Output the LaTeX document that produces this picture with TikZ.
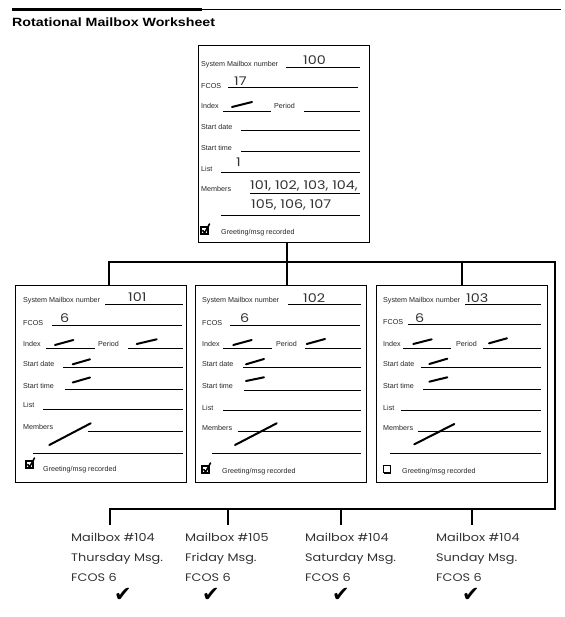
\documentclass[tikz,border=0pt]{standalone}
\usepackage{fontspec}
\setmainfont{Liberation Sans}
\newfontfamily\lblfam{Liberation Sans}
\newfontfamily\handfam{Poppins}
\newfontfamily\symfam{DejaVu Sans}
\newcommand\lblf{\lblfam\fontsize{7.2}{8}\selectfont}
\newcommand\handf{\handfam\fontsize{12}{14}\selectfont}
\newcommand\bigf{\handfam\fontsize{11}{20.2}\selectfont}
\newcommand\titlef{\lblfam\bfseries\fontsize{12}{14}\selectfont}
\newcommand\hw[1]{\scalebox{1.2}[1]{#1}}
\newcommand\mw[1]{\scalebox{1.17}[1]{#1}}
\tikzset{
  formbox/.style={draw, line width=0.9bp, minimum width=171bp, minimum height=197bp, inner sep=0pt, anchor=north west},
  fline/.style={line width=0.75bp},
  lbl/.style={font=\lblf, anchor=base west, inner sep=0pt, text=black!85},
  hand/.style={font=\handf, anchor=base west, inner sep=0pt, text=black!80},
  scribble/.style={line width=2bp, line cap=round},
  conn/.style={line width=1.9bp},
  msg/.style={font=\bigf, align=left, anchor=north west, inner xsep=0pt, inner ysep=8bp, text=black!80},
  tick/.style={font=\symfam\fontsize{21}{21}\selectfont, inner sep=0pt},
  checked/.pic={
    \draw[line width=1.2bp] (0,0) rectangle (7,7);
    \draw[line width=1.6bp, line cap=round, line join=round] (1.8,3.5) -- (3.6,6) -- (8.5,-3);
  },
  emptybox/.pic={
    \draw[line width=0.9bp] (0,0) rectangle (7,7);
    \draw[line width=1.6bp] (1,7.6) -- (7.6,7.6) -- (7.6,1);
  }
}
\begin{document}
\begin{tikzpicture}[x=1bp, y=-1bp]
\useasboundingbox (0,0) rectangle (565,617);

% header
\draw[line width=3.6bp] (12,9.5) -- (202,9.5);
\draw[line width=1bp] (202,9.5) -- (561,9.5);
\node[anchor=base west, inner sep=0pt, font=\titlef] (title) at (12,27) {\scalebox{1.19}[1]{Rotational Mailbox Worksheet}};

% boxes
\node[formbox] (top) at (198,45) {};
\node[formbox] (b1) at (15,285) {};
\node[formbox] (b2) at (195,285) {};
\node[formbox] (b3) at (376,285) {};

% ---------- top box ----------
\begin{scope}[shift={(198,45)}]
  \node[lbl] (t-smn) at (3,21.5) {System Mailbox number};
  \draw[fline] (88,22.3) -- (162,22.3);
  \node[hand] (t-smnv) at (105,19.5) {\hw{100}};
  \node[lbl] (t-fcos) at (3,44) {FCOS};
  \draw[fline] (30,42.3) -- (160,42.3);
  \node[hand] (t-fcosv) at (36,41) {\hw{17}};
  \node[lbl] (t-idx) at (3,63.3) {Index};
  \draw[fline] (25,66.7) -- (73,66.7);
  \draw[scribble] (34,62) -- (54,57);
  \node[lbl] (t-per) at (76,63.3) {Period};
  \draw[fline] (106,66.7) -- (162,66.7);
  \node[lbl] (t-sd) at (3,85) {Start date};
  \draw[fline] (43,85) -- (162,85);
  \node[lbl] (t-st) at (3,106) {Start time};
  \draw[fline] (43,106.7) -- (162,106.7);
  \node[lbl] (t-list) at (3,126.7) {List};
  \draw[fline] (23,127.7) -- (162,127.7);
  \node[hand] (t-listv) at (38,122) {\hw{1}};
  \node[lbl] (t-mem) at (3,146.7) {Members};
  \draw[fline] (52,148.3) -- (162,148.3);
  \node[hand] (t-memv1) at (52,144) {\hw{101, 102, 103, 104,}};
  \node[hand] (t-memv2) at (53,163) {\hw{105, 106, 107}};
  \draw[fline] (23,170) -- (162,170);
  \pic at (3,182) {checked};
  \node[lbl] (t-greet) at (23,189) {Greeting/msg recorded};
\end{scope}

% ---------- box 1 ----------
\begin{scope}[shift={(15,285)}]
  \node[lbl] (a-smn) at (8,17.5) {System Mailbox number};
  \draw[fline] (90,19) -- (168,19);
  \node[hand] (a-smnv) at (113,16) {\hw{101}};
  \node[lbl] (a-fcos) at (8,40) {FCOS};
  \draw[fline] (37,40) -- (167,40);
  \node[hand] (a-fcosv) at (45,37.5) {\hw{6}};
  \node[lbl] (a-idx) at (8,61.5) {Index};
  \draw[fline] (31,63.5) -- (80,63.5);
  \draw[scribble] (40,60) -- (58.3,55);
  \node[lbl] (a-per) at (83,61.5) {Period};
  \draw[fline] (113,63.5) -- (168,63.5);
  \draw[scribble] (121.7,59) -- (141.7,54.3);
  \node[lbl] (a-sd) at (8,81.5) {Start date};
  \draw[fline] (48,82.5) -- (168,82.5);
  \draw[scribble] (57.7,79.3) -- (75,74.3);
  \node[lbl] (a-st) at (8,103) {Start time};
  \draw[fline] (50,104.5) -- (168,104.5);
  \draw[scribble] (57.7,97.5) -- (75,92.5);
  \node[lbl] (a-list) at (8,122.5) {List};
  \draw[fline] (28,124.5) -- (168,124.5);
  \node[lbl] (a-mem) at (8,144.5) {Members};
  \draw[fline] (73,146.5) -- (168,146.5);
  \draw[scribble] (34.3,160) -- (75.7,138.3);
  \draw[fline] (18,168.5) -- (168,168.5);
  \pic at (11,176) {checked};
  \node[lbl] (a-greet) at (28,186) {Greeting/msg recorded};
\end{scope}

% ---------- box 2 ----------
\begin{scope}[shift={(195,285)}]
  \node[lbl] (b-smn) at (7,17.5) {System Mailbox number};
  \draw[fline] (93,19) -- (166,19);
  \node[hand] (b-smnv) at (108,17.2) {\hw{102}};
  \node[lbl] (b-fcos) at (7,40) {FCOS};
  \draw[fline] (35,40) -- (165,40);
  \node[hand] (b-fcosv) at (45,37.5) {\hw{6}};
  \node[lbl] (b-idx) at (7,61.5) {Index};
  \draw[fline] (28,63) -- (77,63);
  \draw[scribble] (38.3,60) -- (56.7,55);
  \node[lbl] (b-per) at (81,61.5) {Period};
  \draw[fline] (110,63) -- (166,63);
  \draw[scribble] (111.7,59) -- (130,54);
  \node[lbl] (b-sd) at (7,81) {Start date};
  \draw[fline] (48,82.5) -- (166,82.5);
  \draw[scribble] (51,79.3) -- (69,74);
  \node[lbl] (b-st) at (7,103) {Start time};
  \draw[fline] (49,105) -- (166,105);
  \draw[scribble] (51,96) -- (69,92.3);
  \node[lbl] (b-list) at (7,125) {List};
  \draw[fline] (28,125) -- (166,125);
  \node[lbl] (b-mem) at (7,145) {Members};
  \draw[fline] (43,146) -- (166,146);
  \draw[scribble] (40,160) -- (81.7,138.3);
  \draw[fline] (17,168) -- (166,168);
  \pic at (7,181) {checked};
  \node[lbl] (b-greet) at (27,188) {Greeting/msg recorded};
\end{scope}

% ---------- box 3 ----------
\begin{scope}[shift={(376,285)}]
  \node[lbl] (c-smn) at (7,17.5) {System Mailbox number};
  \draw[fline] (89,19) -- (165,19);
  \node[hand] (c-smnv) at (90,17.7) {\hw{103}};
  \node[lbl] (c-fcos) at (7,39.5) {FCOS};
  \draw[fline] (32,39.5) -- (165,39.5);
  \node[hand] (c-fcosv) at (39,37.5) {\hw{6}};
  \node[lbl] (c-idx) at (7,61.5) {Index};
  \draw[fline] (27,63.3) -- (75,63.3);
  \draw[scribble] (37.3,59) -- (55.7,54.3);
  \node[lbl] (c-per) at (80,61.5) {Period};
  \draw[fline] (107,63.3) -- (165,63.3);
  \draw[scribble] (113,58.3) -- (131,53.3);
  \node[lbl] (c-sd) at (7,81) {Start date};
  \draw[fline] (45,82.3) -- (165,82.3);
  \draw[scribble] (53.3,79) -- (71.3,73.7);
  \node[lbl] (c-st) at (7,103) {Start time};
  \draw[fline] (47,104) -- (165,104);
  \draw[scribble] (53.3,96.7) -- (71.3,92.3);
  \node[lbl] (c-list) at (7,125) {List};
  \draw[fline] (25,125) -- (165,125);
  \node[lbl] (c-mem) at (7,145) {Members};
  \draw[fline] (42,146.7) -- (165,146.7);
  \draw[scribble] (38.3,159.3) -- (78.3,139);
  \draw[fline] (14,168.3) -- (165,168.3);
  \pic at (7,180.5) {emptybox};
  \node[lbl] (c-greet) at (26,188.3) {Greeting/msg recorded};
\end{scope}

% ---------- bottom messages ----------
\node[msg] (m1) at (71,525) {\mw{Mailbox \#104}\\\mw{Thursday Msg.}\\\mw{FCOS 6}};
\node[msg] (m2) at (185,525) {\mw{Mailbox \#105}\\\mw{Friday Msg.}\\\mw{FCOS 6}};
\node[msg] (m3) at (305,525) {\mw{Mailbox \#104}\\\mw{Saturday Msg.}\\\mw{FCOS 6}};
\node[msg] (m4) at (436,525) {\mw{Mailbox \#104}\\\mw{Sunday Msg.}\\\mw{FCOS 6}};
\node[tick] (c1) at (123,595) {✔};
\node[tick] (c2) at (211,595) {✔};
\node[tick] (c3) at (341,595) {✔};
\node[tick] (c4) at (471,595) {✔};

% ---------- connectors ----------
\coordinate (jt) at (287,262);
\coordinate (j1) at (109,262);
\coordinate (j3) at (462,262);
\coordinate (jr) at (555,262);
\coordinate (kr) at (555,509);
\coordinate (k1) at (110,509);
\coordinate (k2) at (228,509);
\coordinate (k3) at (341,509);
\coordinate (k4) at (472,509);
\draw[conn] (top.south -| jt) -- (jt);
\draw[conn] (j1 |- b1.north) -- (j1) -- (jr) -- (kr) -- (k1) -- (k1 |- m1.north);
\draw[conn] (jt) -- (jt |- b2.north);
\draw[conn] (j3) -- (j3 |- b3.north);
\draw[conn] (k2) -- (k2 |- m2.north);
\draw[conn] (k3) -- (k3 |- m3.north);
\draw[conn] (k4) -- (k4 |- m4.north);
\end{tikzpicture}
\end{document}
